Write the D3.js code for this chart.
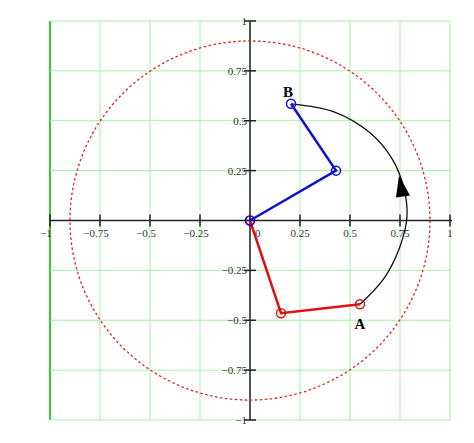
<!DOCTYPE html><html><head><script src="https://cdn.jsdelivr.net/npm/d3@7"></script>
<style>body{margin:0;background:#fff}</style></head><body><svg width="474" height="443"></svg>
<script>
const ticks=[-1,-0.75,-0.5,-0.25,0,0.25,0.5,0.75,1];
const redPts=[[0,0],[0.155,-0.465],[0.55,-0.42]];
const bluePts=[[0,0],[0.43,0.25],[0.205,0.585]];
const arcPts=[[0.55,-0.42],[0.67,-0.29],[0.75,-0.13],[0.785,0.02],[0.77,0.16],[0.71,0.31],[0.6,0.44],[0.42,0.545],[0.205,0.585]];
const circleR=0.9;
const svg=d3.select("svg");
const x=d3.scaleLinear().domain([-1,1]).range([50,450]);
const y=d3.scaleLinear().domain([-1,1]).range([420,21]);
const g=svg.append("g");
ticks.forEach(t=>{
 g.append("line").attr("x1",x(t)).attr("x2",x(t)).attr("y1",y(1)).attr("y2",y(-1)).attr("stroke",t==-1?"#2ecc2e":"#a8eea8").attr("stroke-width",t==-1?2:1);
 g.append("line").attr("y1",y(t)).attr("y2",y(t)).attr("x1",x(-1)).attr("x2",x(1)).attr("stroke","#a8eea8");
});
const ff="Liberation Serif";
g.append("line").attr("x1",x(-1)).attr("x2",x(1)+2).attr("y1",y(0)).attr("y2",y(0)).attr("stroke","#222").attr("stroke-width",1.5);
g.append("line").attr("x1",x(0)).attr("x2",x(0)).attr("y1",y(1)).attr("y2",y(-1)).attr("stroke","#222").attr("stroke-width",1.5);
ticks.forEach(t=>{
 g.append("line").attr("x1",x(t)).attr("x2",x(t)).attr("y1",y(0)-6).attr("y2",y(0)+6).attr("stroke","#222").attr("stroke-width",1.5);
 g.append("line").attr("y1",y(t)).attr("y2",y(t)).attr("x1",x(0)-6).attr("x2",x(0)+6).attr("stroke","#222").attr("stroke-width",1.5);
 const lab=t<0?"\u2212"+String(-t):String(t);
 if(t!==0){
  g.append("text").attr("x",x(t)+(t<0?-4:0)).attr("y",y(0)+16).attr("text-anchor","middle").attr("font-family",ff).attr("font-size",11).attr("fill","#333").text(lab);
  g.append("text").attr("x",x(0)-3).attr("y",y(t)+4).attr("text-anchor","end").attr("font-family",ff).attr("font-size",11).attr("fill","#333").text(lab);
 } else g.append("text").attr("x",x(0)+5).attr("y",y(0)+16).attr("font-family",ff).attr("font-size",11).attr("fill","#333").text("0");
});
g.append("ellipse").attr("cx",x(0)).attr("cy",y(0)).attr("rx",x(circleR)-x(0)).attr("ry",y(0)-y(circleR)).attr("fill","none").attr("stroke","#e02020").attr("stroke-width",1.3).attr("stroke-dasharray","2.5,2.5");
const line=d3.line().x(d=>x(d[0])).y(d=>y(d[1])).curve(d3.curveCatmullRom);
g.append("path").attr("d",line(arcPts)).attr("fill","none").attr("stroke","#111").attr("stroke-width",1.3);
const ax=x(0.765),ay=y(0.17);
g.append("path").attr("d",`M${ax-7},${ay+11}L${ax-4},${ay-11}L${ax+7},${ay+9}Z`).attr("fill","#000");
const l2=d3.line().x(d=>x(d[0])).y(d=>y(d[1]));
[[redPts,"#e01010"],[bluePts,"#1010d0"]].forEach(([p,c])=>{
 g.append("path").attr("d",l2(p)).attr("fill","none").attr("stroke",c).attr("stroke-width",2.5);
 g.selectAll(null).data(p).enter().append("circle").attr("cx",d=>x(d[0])).attr("cy",d=>y(d[1])).attr("r",4.5).attr("fill","none").attr("stroke",c).attr("stroke-width",1.5);
});
g.append("text").attr("x",x(0.55)).attr("y",y(-0.42)+25).attr("text-anchor","middle").attr("font-family",ff).attr("font-weight","bold").attr("font-size",15).text("A");
g.append("text").attr("x",x(0.205)-3).attr("y",y(0.585)-7).attr("text-anchor","middle").attr("font-family",ff).attr("font-weight","bold").attr("font-size",15).text("B");
</script></body></html>
